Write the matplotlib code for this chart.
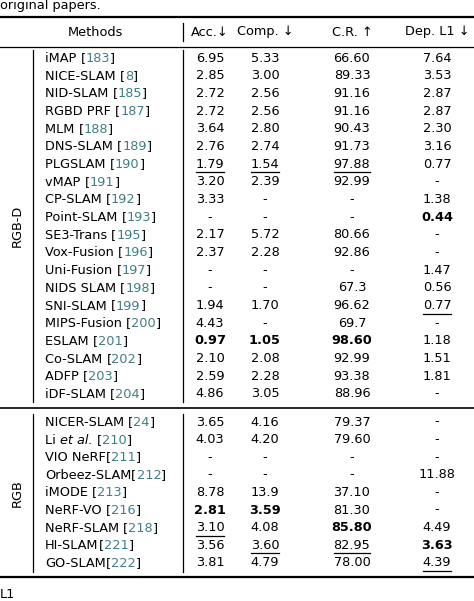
import matplotlib
matplotlib.use("Agg")
import matplotlib.pyplot as plt

headers = ["Acc.↓", "Comp. ↓", "C.R. ↑", "Dep. L1 ↓"]
rgbd_methods = [("iMAP ", "183"), ("NICE-SLAM ", "8"), ("NID-SLAM ", "185"), ("RGBD PRF ", "187"),
                ("MLM ", "188"), ("DNS-SLAM ", "189"), ("PLGSLAM ", "190"), ("vMAP ", "191"),
                ("CP-SLAM ", "192"), ("Point-SLAM ", "193"), ("SE3-Trans ", "195"), ("Vox-Fusion ", "196"),
                ("Uni-Fusion ", "197"), ("NIDS SLAM ", "198"), ("SNI-SLAM ", "199"), ("MIPS-Fusion ", "200"),
                ("ESLAM ", "201"), ("Co-SLAM ", "202"), ("ADFP ", "203"), ("iDF-SLAM ", "204")]
# '*' = bold, '_' = underline
rgbd_values = [
    ["6.95", "5.33", "66.60", "7.64"], ["2.85", "3.00", "89.33", "3.53"],
    ["2.72", "2.56", "91.16", "2.87"], ["2.72", "2.56", "91.16", "2.87"],
    ["3.64", "2.80", "90.43", "2.30"], ["2.76", "2.74", "91.73", "3.16"],
    ["_1.79", "_1.54", "_97.88", "0.77"], ["3.20", "2.39", "92.99", "-"],
    ["3.33", "-", "-", "1.38"], ["-", "-", "-", "*0.44"],
    ["2.17", "5.72", "80.66", "-"], ["2.37", "2.28", "92.86", "-"],
    ["-", "-", "-", "1.47"], ["-", "-", "67.3", "0.56"],
    ["1.94", "1.70", "96.62", "_0.77"], ["4.43", "-", "69.7", "-"],
    ["*0.97", "*1.05", "*98.60", "1.18"], ["2.10", "2.08", "92.99", "1.51"],
    ["2.59", "2.28", "93.38", "1.81"], ["4.86", "3.05", "88.96", "-"]]
rgb_methods = [("NICER-SLAM ", "24"), ("Li |et al.| ", "210"), ("VIO NeRF", "211"), ("Orbeez-SLAM", "212"),
               ("iMODE ", "213"), ("NeRF-VO ", "216"), ("NeRF-SLAM ", "218"), ("HI-SLAM", "221"),
               ("GO-SLAM", "222")]
rgb_values = [
    ["3.65", "4.16", "79.37", "-"], ["4.03", "4.20", "79.60", "-"],
    ["-", "-", "-", "-"], ["-", "-", "-", "11.88"],
    ["8.78", "13.9", "37.10", "-"], ["*2.81", "*3.59", "81.30", "-"],
    ["_3.10", "4.08", "*85.80", "4.49"], ["3.56", "_3.60", "_82.95", "*3.63"],
    ["3.81", "4.79", "78.00", "_4.39"]]

W, H = 474, 601
fig = plt.figure(figsize=(W/100, H/100), dpi=100)
ax = fig.add_axes([0, 0, 1, 1])
ax.set_xlim(0, W); ax.set_ylim(H, 0); ax.axis("off")
FS = 9.3
FAM = "DejaVu Sans"
CITE = "#3f7f86"
fig.canvas.draw()
r = fig.canvas.get_renderer()

def width_px(t):
    return t.get_window_extent(renderer=r).width

def method(x, y, name, cite):
    parts = []
    for i, s in enumerate(name.split("|")):
        if s:
            parts.append((s, "black", "italic" if i % 2 else "normal"))
    parts += [("[", "black", "normal"), (cite, CITE, "normal"), ("]", "black", "normal")]
    prev = None
    for s, c, st in parts:
        kw = dict(fontsize=FS, family=FAM, color=c, style=st, ha="left", va="bottom")
        if prev is None:
            prev = ax.text(x, y + 7, s, **kw)
        else:
            prev = ax.annotate(s, xy=(1, 0), xycoords=prev, **kw)

col_x = [210, 265, 352, 437]

def value(x, y, v):
    bold = v.startswith("*"); und = v.startswith("_")
    s = v.lstrip("*_")
    t = ax.text(x, y, s, fontsize=FS, family=FAM, ha="center", va="center",
                fontweight="bold" if bold else "normal")
    if und:
        w = width_px(t)
        ax.plot([x - w/2, x + w/2], [y + 8, y + 8], color="black", lw=0.9)

ax.text(0, 5, "original papers.", fontsize=FS, family=FAM, ha="left", va="center")
ax.plot([0, W], [17, 17], color="black", lw=1.6)
ax.text(95, 32, "Methods", fontsize=FS, family=FAM, ha="center", va="center")
for x, h in zip(col_x, headers):
    ax.text(x, 32, h, fontsize=FS, family=FAM, ha="center", va="center")
ax.plot([183, 183], [23, 41], color="black", lw=0.9)
ax.plot([0, W], [47, 47], color="black", lw=0.9)

def group(ys, label, top, bot):
    for y, (m, c), vals in ys:
        method(45, y, m, c)
        for x, v in zip(col_x, vals):
            value(x, y, v)
    ax.plot([33, 33], [top, bot], color="black", lw=0.9)
    ax.plot([183, 183], [top, bot], color="black", lw=0.9)
    ax.text(17, (top + bot) / 2, label, fontsize=FS, family=FAM, rotation=90, ha="center", va="center")

step = 17.68
g1 = [(58 + i * step, m, v) for i, (m, v) in enumerate(zip(rgbd_methods, rgbd_values))]
group(g1, "RGB-D", 50, 402)
ax.plot([0, W], [408, 408], color="black", lw=1.2)
step2 = 17.6
g2 = [(422 + i * step2, m, v) for i, (m, v) in enumerate(zip(rgb_methods, rgb_values))]
group(g2, "RGB", 414, 572)
ax.plot([0, W], [577, 577], color="black", lw=1.6)
ax.text(0, 595, "L1", fontsize=FS, family=FAM, ha="left", va="center")
fig.savefig("out.png", dpi=100)
